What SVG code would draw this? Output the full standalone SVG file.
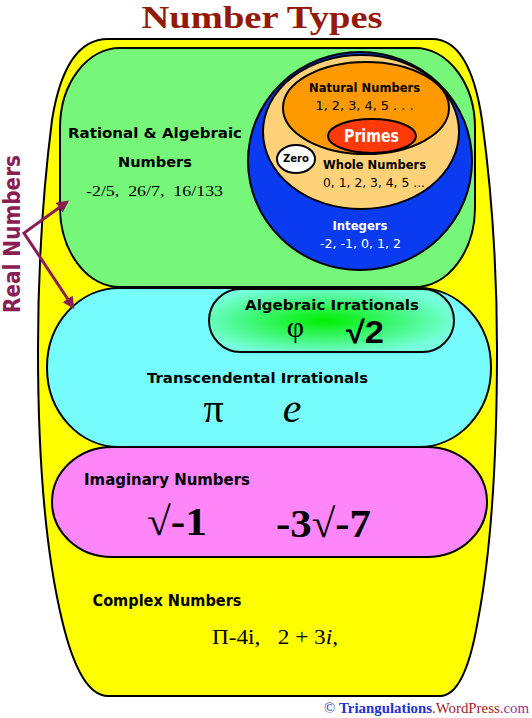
<svg xmlns="http://www.w3.org/2000/svg" width="532" height="718" viewBox="0 0 532 718">
<defs>
<style>
.sh{stroke:#000;stroke-width:2}
.c{font-family:"DejaVu Sans",sans-serif;font-weight:bold;text-anchor:middle;fill:#000}
.n{font-weight:normal}
.s{font-family:"Liberation Serif",serif;text-anchor:middle;fill:#000}
.w{fill:#fff}
</style>
<radialGradient id="gAlg" cx="0.47" cy="0.5" r="0.55">
<stop offset="0" stop-color="#00EE00"/>
<stop offset="1" stop-color="#77FFDD"/>
</radialGradient>
<marker id="ah" viewBox="0 0 10 10" refX="8" refY="5" markerWidth="4" markerHeight="4" orient="auto-start-reverse">
<path d="M0,0 L10,5 L0,10 Z" fill="#8B1E50"/>
</marker>
</defs>
<rect width="532" height="718" fill="#fff"/>
<text x="262" y="28" font-family="Liberation Serif,serif" font-weight="bold" font-size="32" fill="#941A08" text-anchor="middle" textLength="241" lengthAdjust="spacingAndGlyphs">Number Types</text>

<g id="complex">
<path class="sh" fill="#FFFF00" d="M108 39 L432 39 Q470 39 482 120 Q497 230 497 350 Q497 520 478 620 Q465 696 440 696 L108 696 Q80 696 62 620 Q38 520 38 350 Q38 230 52 120 Q65 39 108 39 Z"/>
<text class="c" x="167" y="606" font-size="15" textLength="149" lengthAdjust="spacingAndGlyphs">Complex Numbers</text>
<text class="s" x="275" y="644" font-size="22" textLength="126" lengthAdjust="spacingAndGlyphs">Π-4i,&#160;&#160; 2 + 3<tspan font-style="italic">i</tspan>,</text>
</g>

<g id="rational">
<rect class="sh" fill="#76F77A" x="60" y="48" width="415" height="239" rx="60" ry="80"/>
<text class="c" x="155" y="138" font-size="14" textLength="174" lengthAdjust="spacingAndGlyphs">Rational &amp; Algebraic</text>
<text class="c" x="155" y="167" font-size="14" textLength="74" lengthAdjust="spacingAndGlyphs">Numbers</text>
<text class="s" x="154.5" y="196" font-size="15" textLength="137" lengthAdjust="spacingAndGlyphs">-2/5,&#160; 26/7,&#160; 16/133</text>
</g>

<g id="integers">
<ellipse class="sh" fill="#0A3BF0" cx="360" cy="161" rx="112" ry="109"/>
<text class="c w" x="360" y="230" font-size="13" textLength="55" lengthAdjust="spacingAndGlyphs">Integers</text>
<text class="c w n" x="360.5" y="248" font-size="12" textLength="81" lengthAdjust="spacingAndGlyphs">-2, -1, 0, 1, 2</text>
</g>

<g id="whole">
<ellipse class="sh" fill="#FFD27A" cx="361" cy="132" rx="98" ry="77"/>
<text class="c" x="374.5" y="169" font-size="13" textLength="103" lengthAdjust="spacingAndGlyphs">Whole Numbers</text>
<text class="c n" x="374" y="187" font-size="12" textLength="102" lengthAdjust="spacingAndGlyphs">0, 1, 2, 3, 4, 5 ...</text>
</g>

<g id="natural">
<ellipse class="sh" fill="#FF9900" cx="366" cy="108" rx="83" ry="46"/>
<text class="c" x="364.5" y="92" font-size="13" textLength="111" lengthAdjust="spacingAndGlyphs">Natural Numbers</text>
<text class="c n" x="364.5" y="110" font-size="12" textLength="98" lengthAdjust="spacingAndGlyphs">1, 2, 3, 4, 5 . . .</text>
</g>

<g id="primes">
<ellipse class="sh" fill="#FF3A0A" cx="372" cy="136" rx="44" ry="17"/>
<text class="c w" x="371.5" y="142" font-size="17" textLength="55" lengthAdjust="spacingAndGlyphs">Primes</text>
</g>

<g id="zero">
<ellipse class="sh" fill="#fff" cx="296" cy="159" rx="19" ry="14"/>
<text class="c" x="296" y="162" font-size="10" textLength="26" lengthAdjust="spacingAndGlyphs">Zero</text>
</g>

<g id="transcendental">
<rect class="sh" fill="#77FCFC" x="47" y="288" width="444" height="159" rx="72" ry="79"/>
<text class="c" x="257.5" y="383" font-size="14" textLength="221" lengthAdjust="spacingAndGlyphs">Transcendental Irrationals</text>
<text class="s" x="213.5" y="422" font-size="40">π</text>
<text class="s" x="292" y="422" font-size="42" font-style="italic">e</text>
</g>

<g id="algebraic-irrationals">
<rect class="sh" fill="url(#gAlg)" x="209" y="289" width="245" height="63" rx="31.5" ry="31.5"/>
<text class="c" x="332" y="310" font-size="13.5" textLength="174" lengthAdjust="spacingAndGlyphs">Algebraic Irrationals</text>
<text class="s" x="295.5" y="337" font-size="30">φ</text>
<text x="365" y="343" font-family="Liberation Sans,sans-serif" font-weight="bold" font-size="31" text-anchor="middle" textLength="38" lengthAdjust="spacingAndGlyphs">√2</text>
</g>

<g id="imaginary">
<rect class="sh" fill="#FF86F8" x="52" y="447" width="435" height="110" rx="60" ry="55"/>
<text class="c" x="167" y="485" font-size="15" textLength="166" lengthAdjust="spacingAndGlyphs">Imaginary Numbers</text>
<text x="177" y="535" font-family="Liberation Serif,serif" font-weight="bold" font-size="40" text-anchor="middle" textLength="60" lengthAdjust="spacingAndGlyphs">√-1</text>
<text x="323.5" y="537" font-family="Liberation Serif,serif" font-weight="bold" font-size="40" text-anchor="middle" textLength="95" lengthAdjust="spacingAndGlyphs">-3√-7</text>
</g>

<g id="real-numbers">
<text transform="translate(20,234) rotate(-90)" x="0" y="0" font-family="DejaVu Sans,sans-serif" font-weight="bold" font-size="23" fill="#8B1E50" text-anchor="middle" textLength="158" lengthAdjust="spacingAndGlyphs">Real Numbers</text>
</g>

<g id="connectors">
<path d="M67 202 L24 233 L73 307" fill="none" stroke="#8B1E50" stroke-width="3" stroke-linejoin="miter" marker-start="url(#ah)" marker-end="url(#ah)"/>
</g>

<text x="529" y="713" font-family="Liberation Serif,serif" font-size="14.5" text-anchor="end" textLength="205" lengthAdjust="spacingAndGlyphs"><tspan fill="#2233CC">© </tspan><tspan fill="#2233CC" font-weight="bold">Triangulations</tspan><tspan fill="#A0222A">.WordPress</tspan><tspan fill="#993399">.com</tspan></text>
</svg>
